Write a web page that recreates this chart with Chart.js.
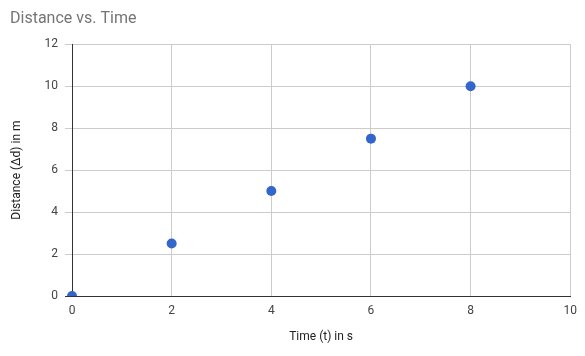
<!DOCTYPE html>
<html>
<head>
<meta charset="utf-8">
<script src="https://cdn.jsdelivr.net/npm/chart.js@4/dist/chart.umd.min.js"></script>
<style>
  html, body { margin: 0; padding: 0; background: #fff; }
  #wrap { width: 585px; height: 356px; position: relative; }
</style>
</head>
<body>
<div id="wrap"><canvas id="myChart"></canvas></div>
<script>
// values
const times = [0, 2, 4, 6, 8];
const distances = [0, 2.5, 5, 7.5, 10];
const xTicks = [0, 2, 4, 6, 8, 10];
const yTicks = [0, 2, 4, 6, 8, 10, 12];

const points = times.map(function (t, i) {
    return { x: t, y: distances[i] };
});

const ctx = document.getElementById('myChart');

new Chart(ctx, {
    type: 'scatter',
    data: {
        datasets: [{
            label: 'Distance',
            data: points,
            backgroundColor: '#3366cc',
            borderColor: '#3366cc',
            pointRadius: 5,
            pointBorderWidth: 0,
            pointHoverRadius: 5,
            clip: { left: 10, top: 10, right: 10, bottom: 0 }
        }]
    },
    options: {
        responsive: true,
        maintainAspectRatio: false,
        animation: false,
        layout: {
            padding: { left: 10, right: 13, top: 0, bottom: 0 }
        },
        plugins: {
            legend: { display: false },
            tooltip: { enabled: false },
            title: {
                display: true,
                text: 'Distance vs. Time',
                align: 'start',
                color: '#757575',
                font: { family: 'Roboto', size: 16, weight: 'normal' },
                padding: { top: 9, bottom: 16 }
            }
        },
        scales: {
            x: {
                type: 'linear',
                min: 0,
                max: 10,
                afterBuildTicks: function (scale) {
                    scale.ticks = xTicks.map(function (v) { return { value: v }; });
                },
                afterFit: function (scale) { scale.height = 60; },
                grid: { color: '#cccccc', drawTicks: false },
                border: { color: '#333333', width: 1 },
                ticks: {
                    color: '#444444',
                    padding: 8,
                    font: { family: 'Roboto', size: 12 },
                    maxRotation: 0
                },
                title: {
                    display: true,
                    text: 'Time (t) in s',
                    color: '#222222',
                    font: { family: 'Roboto', size: 12 },
                    padding: { top: 4, bottom: 12 }
                }
            },
            y: {
                type: 'linear',
                min: 0,
                max: 12,
                afterBuildTicks: function (scale) {
                    scale.ticks = yTicks.map(function (v) { return { value: v }; });
                },
                afterFit: function (scale) { scale.width = 62; },
                grid: {
                    color: '#cccccc',
                    tickLength: 7,
                    tickColor: function (c) {
                        return c.tick && c.tick.value === 0 ? '#333333' : '#cccccc';
                    }
                },
                border: { color: '#333333', width: 1 },
                ticks: {
                    color: '#444444',
                    padding: 7,
                    font: { family: 'Roboto', size: 12 }
                },
                title: {
                    display: true,
                    text: 'Distance (Δd) in m',
                    color: '#222222',
                    font: { family: 'Roboto', size: 12 },
                    padding: { top: 0, bottom: 0 }
                }
            }
        }
    }
});
</script>
</body>
</html>
